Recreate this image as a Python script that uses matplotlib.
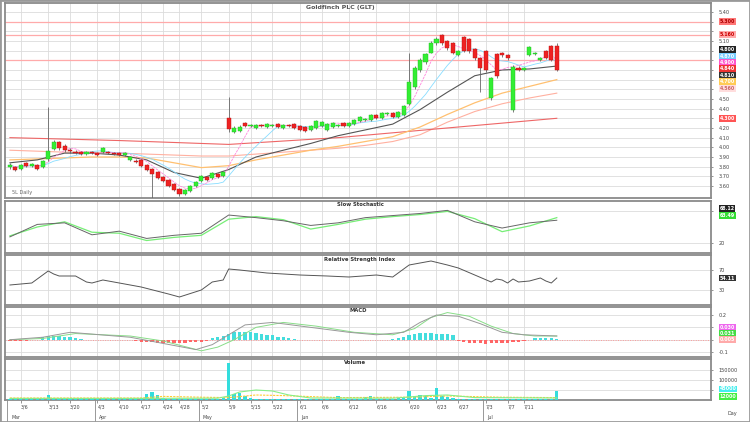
import matplotlib
matplotlib.use("Agg")
import matplotlib.pyplot as plt
import matplotlib.transforms as mtrans
from matplotlib.patches import Rectangle
import numpy as np
import pandas as pd

title = "Goldfinch PLC (GLT)"

opens = [3.80,3.80,3.78,3.84,3.81,3.82,3.80,3.88,3.98,4.06,
         4.01,3.97,3.95,3.95,3.93,3.95,3.94,3.95,3.95,3.94,
         3.94,3.92,3.87,3.86,3.87,3.82,3.78,3.74,3.69,3.66,
         3.62,3.57,3.52,3.55,3.60,3.65,3.69,3.68,3.72,3.70,
         4.30,4.16,4.17,4.25,4.22,4.20,4.23,4.21,4.22,4.24,
         4.20,4.23,4.24,4.22,4.21,4.18,4.20,4.22,4.18,4.21,
         4.22,4.25,4.22,4.24,4.27,4.28,4.28,4.33,4.30,4.34,
         4.35,4.31,4.33,4.45,4.62,4.80,4.88,4.98,5.08,5.16,
         5.10,5.08,4.95,5.14,5.12,5.02,4.92,5.00,4.51,4.96,
         4.98,4.95,4.39,4.82,4.80,4.95,4.96,4.90,5.00,5.05,
         5.05]
closes = [3.82,3.77,3.82,3.81,3.83,3.78,3.86,3.96,4.06,3.99,
          3.97,3.96,3.94,3.93,3.95,3.94,3.92,3.99,3.94,3.93,
          3.92,3.94,3.90,3.85,3.81,3.77,3.72,3.68,3.65,3.60,
          3.56,3.52,3.56,3.60,3.64,3.70,3.66,3.73,3.69,3.74,
          4.19,4.20,4.21,4.22,4.23,4.23,4.22,4.24,4.23,4.21,
          4.23,4.22,4.20,4.18,4.17,4.22,4.27,4.26,4.24,4.25,
          4.23,4.22,4.25,4.28,4.31,4.29,4.33,4.30,4.35,4.35,
          4.31,4.37,4.43,4.68,4.82,4.90,4.96,5.08,5.12,5.08,
          5.03,4.98,5.00,5.00,5.00,4.92,4.82,4.80,4.72,4.74,
          4.95,4.92,4.83,4.80,4.82,5.04,4.98,4.92,4.92,4.90,
          4.80]
highs = [3.84,3.81,3.83,3.85,3.84,3.83,3.87,4.42,4.08,4.07,
         4.03,3.99,3.97,3.96,3.96,3.96,3.95,4.00,3.96,3.95,
         3.95,3.95,3.91,3.88,3.88,3.83,3.79,3.75,3.70,3.67,
         3.63,3.58,3.57,3.61,3.65,3.71,3.70,3.74,3.73,3.75,
         4.52,4.22,4.23,4.26,4.24,4.24,4.24,4.25,4.24,4.25,
         4.24,4.24,4.25,4.23,4.22,4.23,4.28,4.27,4.25,4.26,
         4.24,4.26,4.26,4.29,4.32,4.30,4.34,4.34,4.36,4.37,
         4.36,4.38,4.44,4.98,4.84,4.92,4.98,5.10,5.14,5.17,
         5.11,5.09,5.01,5.15,5.13,5.03,4.93,5.01,4.73,4.97,
         4.99,4.96,4.85,4.84,4.83,5.05,4.99,4.93,5.01,5.06,
         5.08]
lows = [3.78,3.75,3.77,3.80,3.80,3.77,3.79,3.86,3.97,3.97,
        3.95,3.94,3.93,3.92,3.92,3.93,3.91,3.94,3.93,3.92,
        3.91,3.91,3.86,3.84,3.80,3.76,3.48,3.67,3.64,3.59,
        3.55,3.50,3.51,3.54,3.59,3.64,3.65,3.67,3.68,3.69,
        4.16,4.15,4.16,4.21,4.21,4.19,4.21,4.20,4.21,4.20,
        4.19,4.21,4.19,4.17,4.16,4.17,4.19,4.21,4.17,4.20,
        4.21,4.21,4.21,4.23,4.26,4.27,4.27,4.29,4.29,4.33,
        4.30,4.30,4.32,4.44,4.60,4.78,4.86,4.97,5.06,5.06,
        5.01,4.96,4.94,4.99,4.98,4.90,4.57,4.78,4.49,4.72,
        4.93,4.90,4.37,4.79,4.79,4.94,4.95,4.89,4.91,4.89,
        4.79]

ma_idx = [0, 5, 10, 15, 20, 25, 30, 35, 40, 45, 50, 55, 60, 65, 70, 75, 80, 85, 90, 95, 100]
ma_black = [3.84, 3.87, 3.94, 3.94, 3.92, 3.87, 3.74, 3.68, 3.77, 3.90, 3.97,
            4.04, 4.12, 4.18, 4.24, 4.39, 4.57, 4.74, 4.80, 4.81, 4.84]
ma_orange = [3.87, 3.88, 3.89, 3.90, 3.90, 3.89, 3.84, 3.79, 3.81, 3.87, 3.92,
             3.97, 4.01, 4.06, 4.11, 4.21, 4.34, 4.46, 4.56, 4.63, 4.70]
ma_salmon = [3.97, 3.96, 3.95, 3.95, 3.94, 3.93, 3.92, 3.91, 3.91, 3.93, 3.95,
             3.97, 3.99, 4.02, 4.06, 4.13, 4.26, 4.37, 4.45, 4.51, 4.56]
ma_red_idx = [0, 20, 40, 60, 70, 80, 90, 100]
ma_red = [4.10, 4.07, 4.03, 4.10, 4.15, 4.20, 4.25, 4.30]
level_lines = [5.30, 5.16, 4.90]

price_ticks = [3.6, 3.7, 3.8, 3.9, 4.0, 4.1, 4.2, 4.3, 4.4, 4.5, 4.6, 4.7,
               4.8, 4.9, 5.0, 5.1, 5.2, 5.3, 5.4]
price_boxes = [(5.30, "5.300", "#ff7777", "#aa0000"),
               (5.165, "5.160", "#ffaaaa", "#cc0000"),
               (5.01, "4.800", "#222222", "#ffffff"),
               (4.94, "4.870", "#77ccff", "#ffffff"),
               (4.875, "4.900", "#ff55cc", "#ffffff"),
               (4.815, "4.840", "#ee3333", "#ffffff"),
               (4.745, "4.810", "#333333", "#ffffff"),
               (4.68, "4.700", "#ffcc55", "#ffffff"),
               (4.61, "4.560", "#ffdddd", "#cc6666"),
               (4.30, "4.300", "#ff5555", "#ffffff")]

stoch_idx = [0, 5, 10, 15, 20, 25, 30, 35, 40, 45, 50, 55, 60, 65, 70, 75, 80, 85, 90, 95, 100]
stoch_k = [31, 55, 58, 35, 42, 28, 34, 38, 73, 68, 62, 53, 58, 68, 72, 76, 82, 60, 48, 58, 63]
stoch_d = [33, 50, 60, 40, 38, 24, 30, 34, 65, 70, 64, 46, 55, 65, 70, 74, 80, 66, 41, 52, 68]

rsi_idx = [0, 2, 4, 6, 7, 8, 9, 12, 14, 15, 17, 20, 24, 29, 31, 35, 37, 39, 40, 42,
           47, 53, 58, 62, 67, 70, 73, 77, 80, 82, 85, 88, 89, 90, 91, 92, 93, 95, 97,
           98, 99, 100]
rsi_vals = [40, 42, 44, 60, 68, 62, 58, 58, 46, 44, 50, 44, 36, 22, 16, 30, 46, 50, 72, 70,
            64, 60, 58, 56, 60, 56, 80, 88, 80, 74, 60, 46, 52, 50, 44, 52, 46, 48, 54,
            48, 44, 54]

macd_idx = [0, 6, 11, 22, 28, 34, 37, 40, 43, 48, 55, 62, 67, 72, 75, 78, 82, 86, 90, 94, 100]
macd_line = [0.00, 0.02, 0.06, 0.02, -0.03, -0.08, -0.04, 0.04, 0.12, 0.14, 0.10,
             0.06, 0.04, 0.06, 0.14, 0.20, 0.19, 0.13, 0.06, 0.04, 0.03]
sig_idx = [0, 6, 12, 22, 28, 35, 38, 41, 45, 50, 56, 63, 70, 74, 77, 80, 84, 88, 92, 96, 100]
sig_line = [0.00, 0.01, 0.05, 0.03, -0.01, -0.09, -0.06, 0.00, 0.10, 0.14, 0.11,
            0.06, 0.04, 0.09, 0.18, 0.22, 0.19, 0.11, 0.05, 0.03, 0.03]
macd_hist = [-0.01, -0.01, -0.01, -0.01, -0.005, 0.0,
             0.02, 0.03, 0.03, 0.03, 0.025, 0.02,
             0.01, 0.005, 0, 0, 0, 0, 0, 0, 0, 0,
             -0.005, -0.01, -0.015, -0.02, -0.02, -0.025, -0.03, -0.03, -0.03, -0.03,
             -0.025, -0.02, -0.02, -0.015, -0.01,
             0.01, 0.02, 0.03,
             0.05, 0.06, 0.065, 0.065, 0.06, 0.055, 0.05, 0.04, 0.035, 0.025, 0.02,
             0.01, 0.005, 0, -0.005, -0.005, -0.005, -0.005, -0.005, -0.005, -0.005,
             -0.005, -0.005, -0.005, -0.005, -0.005, 0, 0, 0, 0, 0.005, 0.01, 0.02,
             0.04, 0.05, 0.055, 0.055, 0.055, 0.05, 0.05, 0.045, 0.04,
             -0.01, -0.02, -0.025, -0.03, -0.03, -0.035, -0.03, -0.03, -0.03, -0.025,
             -0.02, -0.015, -0.01, -0.005,
             0.01, 0.015, 0.015, 0.01, 0.005]

volumes = [4000, 3000, 5000, 3000, 4000, 3000, 6000, 25000, 8000, 5000,
           4000, 3000, 3000, 4000, 3000, 3000, 4000, 5000, 3000, 3000,
           4000, 3000, 5000, 6000, 8000, 30000, 40000, 25000, 8000, 6000,
           5000, 6000, 7000, 5000, 4000, 6000, 5000, 4000, 6000, 8000,
           185000, 30000, 35000, 20000, 10000, 6000, 5000, 4000, 5000, 4000,
           3000, 4000, 3000, 3000, 4000, 3000, 5000, 4000, 3000, 6000,
           20000, 5000, 4000, 5000, 6000, 15000, 20000, 5000, 6000, 4000,
           6000, 8000, 12000, 45000, 20000, 25000, 20000, 8000, 60000, 20000,
           15000, 8000, 6000, 5000, 6000, 5000, 4000, 6000, 5000, 4000,
           5000, 4000, 6000, 5000, 4000, 3000, 4000, 5000, 4000, 6000,
           45000]
vma_g_idx = [0, 20, 38, 40, 42, 45, 48, 51, 55, 70, 73, 76, 80, 85, 100]
vma_g = [8000, 8000, 9000, 20000, 40000, 50000, 45000, 25000, 10000, 9000, 15000,
         22000, 25000, 12000, 10000]
vma_y_idx = [0, 24, 28, 35, 40, 45, 50, 60, 73, 80, 90, 100]
vma_y = [10000, 10000, 18000, 14000, 12000, 25000, 22000, 12000, 14000, 20000, 14000, 12000]

date_ticks = [2, 7, 11, 16, 20, 24, 28, 31, 35, 40, 44, 48, 53, 57, 62, 67, 73, 78, 82, 87, 91, 94]
date_labels = ["3/6", "3/13", "3/20", "4/3", "4/10", "4/17", "4/24", "4/28", "5/2", "5/9",
               "5/15", "5/22", "6/1", "6/6", "6/12", "6/16", "6/20", "6/23", "6/27",
               "7/3", "7/7", "7/11"]
month_pos = [0, 16, 35, 53, 87]
month_labels = ["Mar", "Apr", "May", "Jun", "Jul"]

# ---------------------------------------------------------------
W, H = 750, 422
fig = plt.figure(figsize=(7.5, 4.22), dpi=100)
fig.patch.set_facecolor("white")


def ax_at(x0, y0, x1, y1):
    return fig.add_axes([x0 / W, 1 - y1 / H, (x1 - x0) / W, (y1 - y0) / H])


ax_p = ax_at(5, 3, 711, 198)
ax_s = ax_at(5, 201, 711, 253)
ax_r = ax_at(5, 255, 711, 305)
ax_m = ax_at(5, 307, 711, 357)
ax_v = ax_at(5, 359, 711, 400)
axes = [ax_p, ax_s, ax_r, ax_m, ax_v]

xlim = (-0.9, 128.2)
grid_c = "#dcdcdc"
for ax in axes:
    ax.set_xlim(*xlim)
    ax.set_facecolor("white")
    for sp in ax.spines.values():
        sp.set_color("#8a8a8a")
        sp.set_linewidth(1.3)
    ax.yaxis.tick_right()
    ax.tick_params(axis="y", labelsize=3.6, colors="#444444", length=1.5, width=0.4, pad=4)
    ax.set_xticks(date_ticks)
    ax.tick_params(axis="x", length=0, labelbottom=False)
    ax.grid(True, color=grid_c, linewidth=0.6)
    ax.set_axisbelow(True)

idx = np.arange(len(closes))
o = np.array(opens); c = np.array(closes); hi = np.array(highs); lo = np.array(lows)

# ---- price panel
ax_p.set_ylim(3.476, 5.492)
ax_p.set_yticks(price_ticks)
box_vals = [b[0] for b in price_boxes]
ax_p.set_yticklabels([f"{t:.2f}" if min(abs(t - bv) for bv in box_vals) > 0.06 else ""
                      for t in price_ticks])
for lv in level_lines:
    ax_p.axhline(lv, color="#ffaaaa", lw=0.9, zorder=1)

ax_p.plot(ma_idx, ma_salmon, color="#ffb0a0", lw=0.8, zorder=2)
ax_p.plot(ma_red_idx, ma_red, color="#ee6666", lw=0.8, zorder=2)
ax_p.plot(ma_idx, ma_orange, color="#ffc070", lw=0.9, zorder=2)
ax_p.plot(ma_idx, ma_black, color="#555555", lw=0.8, zorder=2)
cs = pd.Series(closes)
ax_p.plot(idx, cs.rolling(10, min_periods=1).mean(), color="#88ddff", lw=0.6, zorder=2)
ax_p.plot(idx, cs.rolling(5, min_periods=1).mean(), color="#ff88dd", lw=0.6, zorder=2,
          linestyle=(0, (3, 1)))

up = c >= o
ax_p.vlines(idx, lo, hi, color="#666666", lw=0.6, zorder=3)
body_b = np.minimum(o, c)
body_h = np.maximum(np.abs(c - o), 0.008)
ax_p.bar(idx[up], body_h[up], bottom=body_b[up], width=0.75, color="#33ee33",
         edgecolor="#22bb22", linewidth=0.3, zorder=4)
ax_p.bar(idx[~up], body_h[~up], bottom=body_b[~up], width=0.75, color="#ee2222",
         edgecolor="#bb1111", linewidth=0.3, zorder=4)


def box(ax, yv, txt, fc, tc):
    tr = mtrans.blended_transform_factory(ax.transAxes, ax.transData)
    ax.text(1.012, yv, txt, transform=tr, fontsize=3.4, color=tc, ha="left", va="center",
            fontweight="bold", clip_on=False,
            bbox=dict(boxstyle="square,pad=0.2", fc=fc, ec="none"), zorder=10)


for yv, txt, fc, tc in price_boxes:
    box(ax_p, yv, txt, fc, tc)

fig.text(340 / W, 1 - 8 / H, title, ha="center", va="center", fontsize=4.5,
         color="#555555", fontweight="bold")
fig.text(12 / W, 1 - 192 / H, "5L Daily", ha="left", va="center", fontsize=3.6,
         color="#666666")

# ---- stochastic
ax_s.set_ylim(0, 100)
ax_s.set_yticks([20, 80])
ax_s.set_yticklabels(["20", ""])
ax_s.plot(stoch_idx, stoch_d, color="#77ee77", lw=0.9)
ax_s.plot(stoch_idx, stoch_k, color="#666666", lw=0.7)
box(ax_s, 72, "63.49", "#33dd33", "#ffffff")
box(ax_s, 86, "68.12", "#222222", "#ffffff")
fig.text(360 / W, 1 - 205 / H, "Slow Stochastic", ha="center", va="center",
         fontsize=3.8, color="#333333", fontweight="bold")

# ---- RSI
ax_r.set_ylim(0, 100)
ax_r.set_yticks([30, 70])
ax_r.set_yticklabels(["30", "70"])
ax_r.plot(rsi_idx, rsi_vals, color="#555555", lw=0.7)
box(ax_r, 54, "54.11", "#333333", "#ffffff")
fig.text(360 / W, 1 - 259 / H, "Relative Strength Index", ha="center", va="center",
         fontsize=3.8, color="#333333", fontweight="bold")

# ---- MACD
ax_m.set_ylim(-0.14, 0.265)
ax_m.set_yticks([-0.1, 0.0, 0.1, 0.2])
ax_m.set_yticklabels(["-0.1", "", "", "0.2"])
hist = np.array(macd_hist)
ax_m.axhline(0, color="#ff9999", lw=0.7, linestyle=(0, (1, 1.5)))
pos = hist >= 0
ax_m.bar(idx[pos], hist[pos], width=0.6, color="#44dddd", edgecolor="none", zorder=3)
ax_m.bar(idx[~pos], hist[~pos], width=0.6, color="#ff6666", edgecolor="none", zorder=3)
ax_m.plot(sig_idx, sig_line, color="#88dd88", lw=0.7, zorder=4)
ax_m.plot(macd_idx, macd_line, color="#999999", lw=0.7, zorder=4)
box(ax_m, 0.1, "0.030", "#ee66ee", "#ffffff")
box(ax_m, 0.052, "0.031", "#44dd44", "#ffffff")
box(ax_m, 0.004, "0.005", "#ffaaaa", "#ffffff")
fig.text(358 / W, 1 - 311 / H, "MACD", ha="center", va="center",
         fontsize=3.8, color="#333333", fontweight="bold")

# ---- Volume
ax_v.set_ylim(0, 205000)
ax_v.set_yticks([50000, 100000, 150000])
ax_v.set_yticklabels(["", "100000", "150000"])
ax_v.bar(idx, volumes, width=0.6, color="#33dddd", edgecolor="none", zorder=3)
ax_v.plot(vma_y_idx, vma_y, color="#ffcc33", lw=0.8, linestyle=(0, (2, 1)), zorder=4)
ax_v.plot(vma_g_idx, vma_g, color="#88ee88", lw=0.8, zorder=4)
box(ax_v, 55000, "45000", "#44eeee", "#ffffff")
box(ax_v, 18000, "12000", "#44ee44", "#ffffff")
fig.text(355 / W, 1 - 363 / H, "Volume", ha="center", va="center",
         fontsize=3.8, color="#333333", fontweight="bold")

# ---- date axis
ax_v.tick_params(axis="x", labelbottom=True, labelsize=3.4, colors="#444444",
                 length=2, width=0.4, pad=1.5)
ax_v.set_xticklabels(date_labels)
for lab in ax_v.get_xticklabels():
    lab.set_ha("left")
xtr = mtrans.blended_transform_factory(ax_v.transData, ax_v.transAxes)
for mp, ml in zip(month_pos, month_labels):
    ax_v.plot([mp - 0.5, mp - 0.5], [0, -0.5], transform=xtr, color="#888888",
              lw=0.6, clip_on=False)
    ax_v.text(mp + 0.3, -0.42, ml, transform=xtr, fontsize=3.4, color="#444444",
              ha="left", va="center", clip_on=False)
fig.text(732 / W, 1 - 414 / H, "Day", ha="center", va="center", fontsize=3.6,
         color="#444444")

fig.patches.append(Rectangle((0, 0), 1, 1, transform=fig.transFigure, fill=False,
                             ec="#999999", lw=2))

fig.savefig("out.png", dpi=100, facecolor="white")
